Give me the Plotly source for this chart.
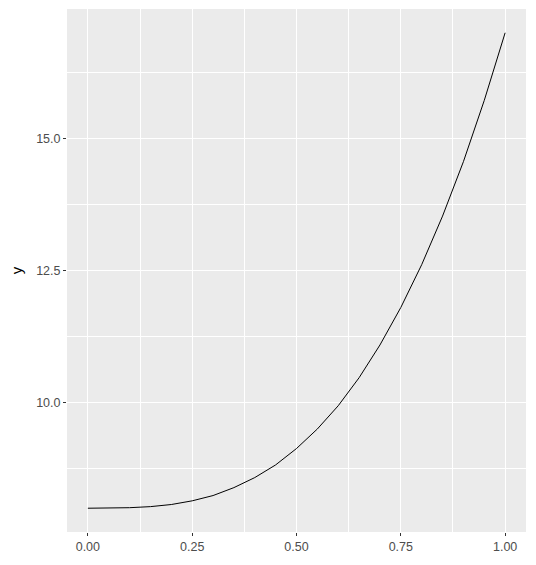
import plotly.graph_objects as go

x_vals = [0.00, 0.05, 0.10, 0.15, 0.20, 0.25, 0.30, 0.35, 0.40, 0.45, 0.50,
          0.55, 0.60, 0.65, 0.70, 0.75, 0.80, 0.85, 0.90, 0.95, 1.00]
y_vals = [8.00, 8.00, 8.01, 8.03, 8.07, 8.14, 8.24, 8.39, 8.58, 8.82, 9.13,
          9.50, 9.94, 10.47, 11.09, 11.80, 12.61, 13.53, 14.56, 15.72, 17.00]
x_ticks = [0.00, 0.25, 0.50, 0.75, 1.00]
x_ticklabels = ["0.00", "0.25", "0.50", "0.75", "1.00"]
y_ticks = [10.0, 12.5, 15.0]
y_ticklabels = ["10.0", "12.5", "15.0"]

fig = go.Figure()
fig.add_trace(go.Scatter(x=x_vals, y=y_vals, mode="lines",
                         line=dict(color="black", width=1), showlegend=False))

axis_common = dict(
    showgrid=True, gridcolor="white", gridwidth=1.2,
    zeroline=False, showline=False,
    ticks="outside", ticklen=3, tickwidth=1, tickcolor="#333333",
    tickfont=dict(family="Liberation Sans, Arial", size=12.5, color="#4D4D4D"),
)

fig.update_xaxes(
    range=[-0.05, 1.05], tickmode="array", tickvals=x_ticks, ticktext=x_ticklabels,
    minor=dict(showgrid=True, gridcolor="white", gridwidth=0.6,
               tickvals=[0.125, 0.375, 0.625, 0.875], ticks=""),
    **axis_common,
)
fig.update_yaxes(
    range=[7.55, 17.45], tickmode="array", tickvals=y_ticks, ticktext=y_ticklabels,
    minor=dict(showgrid=True, gridcolor="white", gridwidth=0.6,
               tickvals=[8.75, 11.25, 13.75, 16.25], ticks=""),
    title=dict(text="y", font=dict(family="Liberation Sans, Arial", size=15, color="black"),
               standoff=10),
    **axis_common,
)

fig.update_layout(
    width=528, height=557,
    margin=dict(l=59, r=10, t=1, b=33),
    plot_bgcolor="#EBEBEB", paper_bgcolor="white",
)

fig.write_html("out.html")
